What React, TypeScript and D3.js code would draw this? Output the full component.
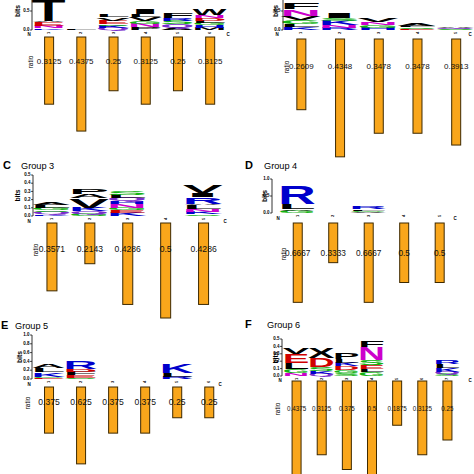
import * as d3 from "d3";

// ratio values per group (one bar per position)
const ratiosA = [0.3125, 0.4375, 0.25, 0.3125, 0.25, 0.3125];
const ratiosB = [0.2609, 0.4348, 0.3478, 0.3478, 0.3913];
const ratiosC = [0.3571, 0.2143, 0.4286, 0.5, 0.4286];
const ratiosD = [0.6667, 0.3333, 0.6667, 0.5, 0.5];
const ratiosE = [0.375, 0.625, 0.375, 0.375, 0.25, 0.25];
const ratiosF = [0.4375, 0.3125, 0.375, 0.5, 0.1875, 0.3125, 0.25];

// sequence logo columns, letters listed bottom -> top as [letter, bits]
type Col = [string, number][];
const logoA: Col[] = [
  [["K", 0.04], ["N", 0.06], ["E", 0.1], ["A", 0.04], ["T", 0.6]],
  [["L", 0.015]],
  [["Q", 0.06], ["K", 0.05], ["S", 0.04], ["E", 0.1], ["V", 0.08], ["L", 0.06]],
  [["P", 0.07], ["N", 0.09], ["G", 0.08], ["V", 0.11], ["L", 0.08], ["I", 0.15]],
  [["A", 0.05], ["Q", 0.1], ["S", 0.1], ["R", 0.06], ["F", 0.13]],
  [["M", 0.05], ["H", 0.08], ["G", 0.05], ["L", 0.05], ["D", 0.08], ["N", 0.08], ["W", 0.16]],
];
const logoB: Col[] = [
  [["K", 0.08], ["L", 0.08], ["G", 0.1], ["V", 0.1], ["N", 0.18], ["F", 0.17]],
  [["R", 0.05], ["N", 0.08], ["K", 0.12], ["S", 0.06], ["I", 0.14]],
  [["H", 0.06], ["G", 0.07], ["N", 0.08], ["V", 0.1]],
  [["E", 0.03], ["S", 0.04], ["L", 0.04], ["A", 0.05]],
  [["S", 0.02], ["Q", 0.03], ["A", 0.03]],
];
const logoC: Col[] = [
  [["K", 0.02], ["Q", 0.03], ["S", 0.02], ["G", 0.03], ["L", 0.03], ["A", 0.03]],
  [["G", 0.03], ["Q", 0.03], ["K", 0.04], ["V", 0.12], ["A", 0.05], ["P", 0.07]],
  [["K", 0.04], ["E", 0.03], ["G", 0.03], ["N", 0.05], ["H", 0.03], ["Q", 0.04], ["L", 0.04], ["S", 0.04]],
  [],
  [["S", 0.02], ["K", 0.03], ["N", 0.03], ["L", 0.05], ["A", 0.02], ["R", 0.08], ["I", 0.05], ["V", 0.1]],
];
const logoD: Col[] = [
  [["G", 0.06], ["A", 0.05], ["L", 0.16], ["R", 0.55]],
  [],
  [["V", 0.03], ["G", 0.04], ["L", 0.04], ["R", 0.09]],
  [],
  [],
];
const logoE: Col[] = [
  [["E", 0.02], ["G", 0.03], ["K", 0.1], ["L", 0.09], ["A", 0.09]],
  [["S", 0.03], ["E", 0.05], ["F", 0.08], ["D", 0.07], ["R", 0.17]],
  [],
  [],
  [["R", 0.05], ["L", 0.08], ["K", 0.2]],
  [],
];
const logoF: Col[] = [
  [["N", 0.04], ["G", 0.06], ["L", 0.08], ["E", 0.12], ["V", 0.09]],
  [["Q", 0.03], ["K", 0.04], ["S", 0.05], ["D", 0.12], ["X", 0.14]],
  [["S", 0.04], ["G", 0.04], ["D", 0.05], ["K", 0.05], ["L", 0.05], ["P", 0.08]],
  [["G", 0.06], ["L", 0.03], ["E", 0.06], ["S", 0.07], ["N", 0.17], ["F", 0.08]],
  [],
  [],
  [["S", 0.03], ["Q", 0.03], ["K", 0.05], ["L", 0.05], ["R", 0.06]],
];

const groupTitles = ["Group 1", "Group 2", "Group 3", "Group 4", "Group 5", "Group 6"];
const panelTags = ["A", "B", "C", "D", "E", "F"];

const letterColor: Record<string, string> = {
  A: "#000", V: "#000", L: "#000", I: "#000", P: "#000", F: "#000", M: "#000", W: "#000", X: "#000", T: "#000",
  G: "#12b312", S: "#12b312", Y: "#12b312", C: "#12b312",
  N: "#cc00cc", Q: "#7a2ccc",
  K: "#0000cc", R: "#0000cc", H: "#0000cc",
  D: "#d00000", E: "#d00000",
};

const FONT = "'Liberation Sans', Arial, sans-serif";
const BAR_FILL = "#f9a61b";
const BAR_STROKE = "#3d2900";

interface Layout {
  ratios: number[];
  logo: Col[];
  tag: string | null;
  title: string | null;
  tagX: number;
  titleX: number;
  headY: number;
  axisX: number;
  colStart: number;
  colEnd: number;
  base: number;
  bitUnit: number;
  bitTicks: number[];
  barTop: number;
  barUnit: number;
  barW: number;
  labelY: number;
  labelSize: number;
  ratioX: number;
  bitsX: number;
  nX: number;
  cX: number;
  nY: number;
}

const panels: Layout[] = [
  {
    ratios: ratiosA, logo: logoA, tag: null, title: null, tagX: 0, titleX: 0, headY: 0,
    axisX: 32, colStart: 33, colEnd: 225, base: 30, bitUnit: 38, bitTicks: [0, 0.5, 1],
    barTop: 37, barUnit: 215, barW: 9, labelY: 62, labelSize: 8, ratioX: 31, bitsX: 18, nX: 29, cX: 228, nY: 35,
  },
  {
    ratios: ratiosB, logo: logoB, tag: null, title: null, tagX: 0, titleX: 0, headY: 0,
    axisX: 283, colStart: 282, colEnd: 474, base: 30, bitUnit: 38, bitTicks: [0, 0.5, 1],
    barTop: 39, barUnit: 271, barW: 9, labelY: 67, labelSize: 8, ratioX: 287, bitsX: 276, nX: 277, cX: 470, nY: 35,
  },
  {
    ratios: ratiosC, logo: logoC, tag: panelTags[2], title: groupTitles[2], tagX: 3, titleX: 21, headY: 169,
    axisX: 33, colStart: 33, colEnd: 221, base: 216, bitUnit: 82, bitTicks: [0, 0.1, 0.2, 0.3, 0.4, 0.5],
    barTop: 223, barUnit: 190, barW: 10, labelY: 250, labelSize: 8.6, ratioX: 36, bitsX: 18, nX: 29, cX: 225, nY: 222,
  },
  {
    ratios: ratiosD, logo: logoD, tag: panelTags[3], title: groupTitles[3], tagX: 245, titleX: 264, headY: 169,
    axisX: 272, colStart: 280, colEnd: 456, base: 213, bitUnit: 34, bitTicks: [0, 0.5, 1],
    barTop: 223, barUnit: 119, barW: 9, labelY: 254, labelSize: 8.3, ratioX: 284, bitsX: 265, nX: 278, cX: 455, nY: 219,
  },
  {
    ratios: ratiosE, logo: logoE, tag: panelTags[4], title: groupTitles[4], tagX: 1, titleX: 15, headY: 329,
    axisX: 32, colStart: 33, colEnd: 224, base: 379, bitUnit: 44, bitTicks: [0, 0.2, 0.4, 0.6, 0.8, 1],
    barTop: 387, barUnit: 123, barW: 9, labelY: 403, labelSize: 8.6, ratioX: 28, bitsX: 20, nX: 29, cX: 220, nY: 385,
  },
  {
    ratios: ratiosF, logo: logoF, tag: panelTags[5], title: groupTitles[5], tagX: 245, titleX: 267, headY: 328,
    axisX: 282, colStart: 284, colEnd: 459, base: 376, bitUnit: 74, bitTicks: [0, 0.1, 0.2, 0.3, 0.4, 0.5],
    barTop: 381, barUnit: 236, barW: 9, labelY: 409, labelSize: 6.3, ratioX: 278, bitsX: 276, nX: 280, cX: 470, nY: 381,
  },
];

const CAP = 72; // cap height of the font at size 100

function Panel({ p }: { p: Layout }) {
  const positions = p.ratios.map((_, i) => String(i + 1));
  const x = d3.scaleBand<string>().domain(positions).range([p.colStart, p.colEnd]).paddingInner(0.04);
  const step = x.step();
  const bitMax = d3.max(p.bitTicks)!;
  const yBits = d3.scaleLinear().domain([0, bitMax]).range([p.base, p.base - bitMax * p.bitUnit]);
  const hBar = d3.scaleLinear().domain([0, 1]).range([0, p.barUnit]);
  const fmt = d3.format(".1f");
  const bitsMid = yBits(Math.min(bitMax, 0.5) / 2 + (bitMax > 0.5 ? 0.25 : 0));

  return (
    <g>
      {p.tag && (
        <text x={p.tagX} y={p.headY} fontSize={11} fontWeight="bold" fontFamily={FONT}>
          {p.tag}
        </text>
      )}
      {p.title && (
        <text x={p.titleX} y={p.headY} fontSize={9.2} fontFamily={FONT}>
          {p.title}
        </text>
      )}

      {/* logo letters */}
      {p.logo.map((col, i) => {
        const w = x.bandwidth();
        const x0 = x(positions[i])! - w * 0.05;
        let cum = 0;
        return (
          <g key={i}>
            {col.map(([ch, b], j) => {
              const yb = yBits(cum);
              cum += b;
              const h = yb - yBits(cum);
              return (
                <text
                  key={j}
                  transform={`translate(${x0},${yb}) scale(1,${h / CAP})`}
                  fontSize={100}
                  fontWeight="bold"
                  fontFamily={FONT}
                  textLength={w * 1.1}
                  lengthAdjust="spacingAndGlyphs"
                  fill={letterColor[ch] ?? "#000"}
                >
                  {ch}
                </text>
              );
            })}
          </g>
        );
      })}

      {/* logo axis */}
      <line x1={p.axisX} x2={p.axisX} y1={yBits(0)} y2={yBits(bitMax)} stroke="#000" strokeWidth={0.8} />
      {p.bitTicks.map((t) => (
        <g key={t}>
          <line x1={p.axisX - 2} x2={p.axisX} y1={yBits(t)} y2={yBits(t)} stroke="#000" strokeWidth={0.7} />
          <text x={p.axisX - 2.5} y={yBits(t)} fontSize={4.5} fontWeight="bold" fontFamily={FONT} textAnchor="end" dominantBaseline="middle">
            {fmt(t)}
          </text>
        </g>
      ))}
      <text
        transform={`translate(${p.bitsX + 2},${bitsMid}) rotate(-90)`}
        fontSize={6.8}
        fontWeight="bold"
        fontFamily={FONT}
        textAnchor="middle"
      >
        bits
      </text>
      <text x={p.nX} y={p.nY} fontSize={4.5} fontWeight="bold" fontFamily={FONT} textAnchor="middle" dominantBaseline="middle">
        N
      </text>
      <text x={p.cX} y={p.nY} fontSize={4.5} fontWeight="bold" fontFamily={FONT} textAnchor="middle" dominantBaseline="middle">
        C
      </text>
      {positions.map((s) => (
        <text
          key={s}
          transform={`translate(${x(s)! + step / 2},${p.base + 3}) rotate(-90)`}
          fontSize={4}
          fontWeight="bold"
          fontFamily={FONT}
          textAnchor="middle"
          dominantBaseline="middle"
        >
          {s}
        </text>
      ))}

      {/* ratio bars */}
      {p.ratios.map((r, i) => {
        const cx = x(positions[i])! + step / 2;
        return (
          <rect
            key={i}
            x={cx - p.barW / 2}
            y={p.barTop}
            width={p.barW}
            height={hBar(r)}
            fill={BAR_FILL}
            stroke={BAR_STROKE}
            strokeWidth={1}
          />
        );
      })}
      {p.ratios.map((r, i) => {
        const cx = x(positions[i])! + step / 2;
        return (
          <text key={i} x={cx} y={p.labelY} fontSize={p.labelSize} fontFamily={FONT} textAnchor="middle" dominantBaseline="middle" fill="#111">
            {String(r)}
          </text>
        );
      })}
      <text
        transform={`translate(${p.ratioX},${p.labelY}) rotate(-90)`}
        fontSize={6.5}
        fontFamily={FONT}
        textAnchor="middle"
        dominantBaseline="middle"
      >
        ratio
      </text>
    </g>
  );
}

export default function App() {
  return (
    <svg
      width={474}
      height={474}
      style={{ position: "absolute", left: 0, top: 0, background: "#fff", overflow: "hidden" }}
    >
      {panels.map((p, i) => (
        <Panel key={i} p={p} />
      ))}
    </svg>
  );
}
